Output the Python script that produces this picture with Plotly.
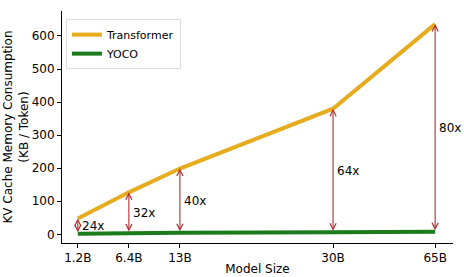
import plotly.graph_objects as go

model_sizes = ["1.2B", "6.4B", "13B", "30B", "65B"]
x_positions = [0, 1, 2, 5, 7]
transformer = [48, 127, 199, 380, 636]
yoco = [2, 4, 5, 6, 8]
ratios = ["24x", "32x", "40x", "64x", "80x"]

gold = "#E6AC1E"
green = "#1B7A1B"
red = "#B03030"
font = "DejaVu Sans"

fig = go.Figure()
fig.add_trace(go.Scatter(x=x_positions, y=transformer, mode="lines", name="Transformer",
                         line=dict(color=gold, width=4)))
fig.add_trace(go.Scatter(x=x_positions, y=yoco, mode="lines", name="YOCO",
                         line=dict(color=green, width=4)))

for xp, t, y, r in zip(x_positions, transformer, yoco, ratios):
    fig.add_annotation(x=xp, y=t, ax=xp, ay=y, xref="x", yref="y", axref="x", ayref="y",
                       showarrow=True, arrowside="end+start", arrowhead=5, arrowsize=1.1,
                       arrowwidth=1.1, arrowcolor=red, text="")
    fig.add_annotation(x=xp, y=(t + y) / 2, xref="x", yref="y", text=r, showarrow=False,
                       xanchor="left", xshift=2, font=dict(family=font, size=12, color="black"))

fig.update_layout(
    width=464, height=277,
    margin=dict(l=62, r=11, t=11, b=34),
    plot_bgcolor="white", paper_bgcolor="white",
    font=dict(family=font, size=12, color="black"),
    showlegend=True,
    legend=dict(x=0.01, y=0.965, xanchor="left", yanchor="top", bordercolor="#dddddd",
                borderwidth=1, bgcolor="rgba(255,255,255,0.9)", font=dict(size=11),
                tracegroupgap=0, itemwidth=30),
)
fig.update_xaxes(range=[-0.31, 7.35], tickvals=x_positions, ticktext=model_sizes,
                 showline=True, linecolor="black", linewidth=1, ticks="outside", ticklen=4,
                 tickcolor="black", showgrid=False, zeroline=False, automargin=False,
                 title=dict(text="Model Size", font=dict(size=12), standoff=0))
fig.update_yaxes(range=[-26.3, 675.6], tickvals=[0, 100, 200, 300, 400, 500, 600],
                 showline=True, linecolor="black", linewidth=1, ticks="outside", ticklen=4,
                 tickcolor="black", showgrid=False, zeroline=False, automargin=False,
                 title=dict(text="KV Cache Memory Consumption<br>(KB / Token)", font=dict(size=12), standoff=0))

fig.write_html("out.html")
